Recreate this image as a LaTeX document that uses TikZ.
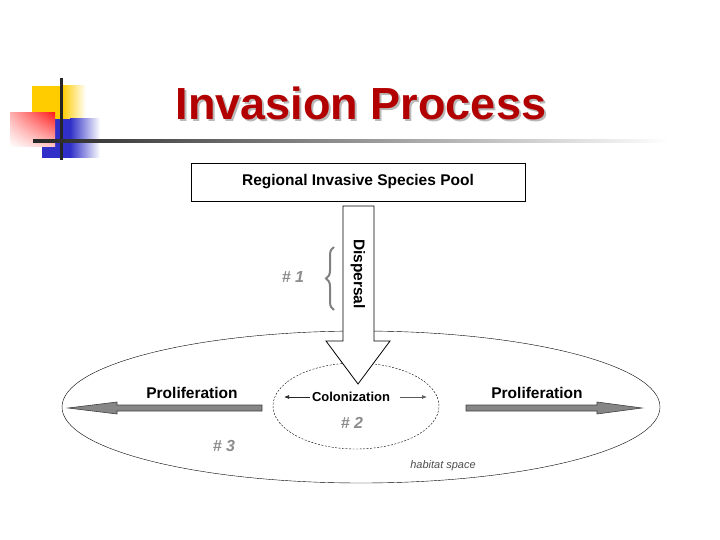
\documentclass[tikz,border=0pt]{standalone}
\usepackage{fontspec}
\setmainfont{Liberation Sans}
\usetikzlibrary{shapes.geometric,shadings,decorations.pathreplacing,arrows.meta}
\definecolor{titlered}{RGB}{178,0,0}
\definecolor{decoyellow}{RGB}{255,204,0}
\definecolor{decoblue}{RGB}{48,48,200}
\definecolor{decored}{RGB}{255,30,30}
\tikzstyle{pool} = [rectangle, draw, thick, minimum width=334pt, minimum height=38pt, font=\bfseries\fontsize{15.5}{18}\selectfont]
\tikzstyle{heading} = [inner sep=0pt, font=\bfseries\fontsize{15.5}{18}\selectfont]
\tikzstyle{tag} = [inner sep=0pt, text=gray!90, font=\bfseries\itshape\fontsize{16}{18}\selectfont]
\tikzstyle{space} = [ellipse, draw, inner sep=0pt]
\tikzstyle{fatarrow} = [fill=gray!95, draw=black!75, line width=0.6pt]

\begin{document}
\begin{tikzpicture}[x=1pt, y=-1pt, >={Latex[length=5pt,width=4pt]}]
        \useasboundingbox (0,0) rectangle (720,540);
        % corner decoration
        \fill[decoyellow] (32,86) rectangle (62,135);
        \shade[left color=decoyellow, right color=white] (62,86) rectangle (86,135);
        \fill[decoblue] (42,119) rectangle (70,158);
        \shade[left color=decoblue, right color=white] (70,119) rectangle (100,158);
        \shade[upper right=decored, upper left=decored!35, lower right=decored!25, lower left=white] (10,113) rectangle (55,147);
        \fill[black!85] (59.5,78) rectangle (62.5,160);
        \shade[left color=black!85, right color=white] (33,140) rectangle (670,142.5);

        % title
        \node[text=gray!55, font=\bfseries\fontsize{45}{50}\selectfont] at (363,105) {Invasion Process};
        \node[text=titlered, font=\bfseries\fontsize{45}{50}\selectfont] (title) at (361,103) {Invasion Process};

        \node[pool] (pool) at (358,182) {Regional Invasive Species Pool};

        \node[space, minimum width=598pt, minimum height=152pt] (habitat) at (361,407) {};
        \node[space, dash pattern=on 2pt off 1.5pt, minimum width=166pt, minimum height=86pt] (core) at (356,406) {};

        % dispersal arrow
        \draw[fill=white, line width=0.8pt] (343,206) -- (374,206) -- (374,341) -- (390,341) -- (358,384) -- (326,341) -- (343,341) -- cycle;
        \node[heading, rotate=-90] (disp) at (358,274) {Dispersal};
        \draw[gray, line width=2pt, decorate, decoration={brace, amplitude=8pt}] (334,310) -- (334,247);
        \node[tag] (t1) at (293,277) {\# 1};

        % proliferation
        \node[heading] (prolL) at (192,393) {Proliferation};
        \node[heading] (prolR) at (537,393) {Proliferation};
        \draw[fatarrow] (262,405) -- (117,405) -- (117,402) -- (68,408) -- (117,414) -- (117,411) -- (262,411) -- cycle;
        \draw[fatarrow] (466,405) -- (597,405) -- (597,402) -- (642,408) -- (597,414) -- (597,411) -- (466,411) -- cycle;

        % colonization
        \node[inner sep=0pt, font=\bfseries\fontsize{13}{15}\selectfont] (colon) at (351,397) {Colonization};
        \coordinate (cL) at (284,397);
        \coordinate (cR) at (427,397);
        \draw[->, black!85, line width=0.7pt] ([xshift=-2pt]colon.west) -- (cL);
        \draw[->, black!65, line width=0.7pt] ([xshift=10pt]colon.east) -- (cR);
        \node[tag] (t2) at (352,423) {\# 2};
        \node[tag] (t3) at (224,446) {\# 3};
        \node[inner sep=0pt, text=black!70, font=\itshape\fontsize{11}{13}\selectfont] (hab) at (443,466) {habitat space};
    \end{tikzpicture}
\end{document}
